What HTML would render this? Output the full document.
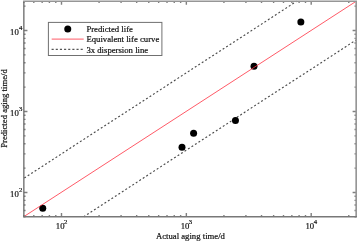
<!DOCTYPE html>
<html><head><meta charset="utf-8"><style>
html,body{margin:0;padding:0;background:#fff;width:357px;height:241px;overflow:hidden}
svg{display:block}
</style></head><body>
<svg width="357" height="241" viewBox="0 0 357 241">

<rect width="357" height="241" fill="#fff"/>
<g>
<path d="M23.85 178.28L296.79 1.2" stroke="#4a4a4a" stroke-width="1.15" stroke-dasharray="1.95 2.2" stroke-dashoffset="-0.475" fill="none"/>
<path d="M83.84 216.65L356.2 39.95" stroke="#4a4a4a" stroke-width="1.15" stroke-dasharray="1.95 2.2" stroke-dashoffset="0.275" fill="none"/>
<circle cx="42.75" cy="208.3" r="3.5" fill="#000"/>
<circle cx="182.0" cy="147.2" r="3.5" fill="#000"/>
<circle cx="193.6" cy="133.3" r="3.5" fill="#000"/>
<circle cx="235.45" cy="120.6" r="3.5" fill="#000"/>
<circle cx="254.0" cy="66.2" r="3.5" fill="#000"/>
<circle cx="300.85" cy="22.1" r="3.5" fill="#000"/>
<path d="M23.8 216.65L355.8 1.5" stroke="#ff3040" stroke-width="0.8" fill="none"/>
<path d="M23.92 216.65v-1.7M23.92 1.2v1.7M23.85 216.88h1.7M356.2 216.88h-1.7M33.80 216.65v-1.7M33.80 1.2v1.7M23.85 210.47h1.7M356.2 210.47h-1.7M42.16 216.65v-1.7M42.16 1.2v1.7M23.85 205.05h1.7M356.2 205.05h-1.7M49.40 216.65v-1.7M49.40 1.2v1.7M23.85 200.35h1.7M356.2 200.35h-1.7M55.79 216.65v-1.7M55.79 1.2v1.7M23.85 196.21h1.7M356.2 196.21h-1.7M61.50 216.65v-3.6M61.50 1.2v3.6M23.85 192.50h3.6M356.2 192.50h-3.6M99.08 216.65v-1.7M99.08 1.2v1.7M23.85 168.12h1.7M356.2 168.12h-1.7M121.07 216.65v-1.7M121.07 1.2v1.7M23.85 153.85h1.7M356.2 153.85h-1.7M136.67 216.65v-1.7M136.67 1.2v1.7M23.85 143.73h1.7M356.2 143.73h-1.7M148.77 216.65v-1.7M148.77 1.2v1.7M23.85 135.88h1.7M356.2 135.88h-1.7M158.65 216.65v-1.7M158.65 1.2v1.7M23.85 129.47h1.7M356.2 129.47h-1.7M167.01 216.65v-1.7M167.01 1.2v1.7M23.85 124.05h1.7M356.2 124.05h-1.7M174.25 216.65v-1.7M174.25 1.2v1.7M23.85 119.35h1.7M356.2 119.35h-1.7M180.64 216.65v-1.7M180.64 1.2v1.7M23.85 115.21h1.7M356.2 115.21h-1.7M186.35 216.65v-3.6M186.35 1.2v3.6M23.85 111.50h3.6M356.2 111.50h-3.6M223.93 216.65v-1.7M223.93 1.2v1.7M23.85 87.12h1.7M356.2 87.12h-1.7M245.92 216.65v-1.7M245.92 1.2v1.7M23.85 72.85h1.7M356.2 72.85h-1.7M261.52 216.65v-1.7M261.52 1.2v1.7M23.85 62.73h1.7M356.2 62.73h-1.7M273.62 216.65v-1.7M273.62 1.2v1.7M23.85 54.88h1.7M356.2 54.88h-1.7M283.50 216.65v-1.7M283.50 1.2v1.7M23.85 48.47h1.7M356.2 48.47h-1.7M291.86 216.65v-1.7M291.86 1.2v1.7M23.85 43.05h1.7M356.2 43.05h-1.7M299.10 216.65v-1.7M299.10 1.2v1.7M23.85 38.35h1.7M356.2 38.35h-1.7M305.49 216.65v-1.7M305.49 1.2v1.7M23.85 34.21h1.7M356.2 34.21h-1.7M311.20 216.65v-3.6M311.20 1.2v3.6M23.85 30.50h3.6M356.2 30.50h-3.6M348.78 216.65v-1.7M348.78 1.2v1.7M23.85 6.12h1.7M356.2 6.12h-1.7" stroke="#808080" stroke-width="1.4" fill="none"/>
<path d="M23.85 1.2V216.65" stroke="#696969" stroke-width="1.3" fill="none"/>
<path d="M356.2 1.2V216.65" stroke="#969696" stroke-width="1.7" fill="none"/>
<path d="M23.05 1.2H357.0" stroke="#969696" stroke-width="1.6" fill="none"/>
<path d="M23.05 216.65H357.0" stroke="#787878" stroke-width="1.5" fill="none"/>
<text x="55.80" y="229.3" font-size="8.7" font-family="Liberation Serif, Times New Roman, serif" stroke="#111" stroke-width="0.2" fill="#111">10<tspan font-size="6.8" dx="-0.5" dy="-5.0">2</tspan></text>
<text x="10.1" y="196.90" font-size="8.7" font-family="Liberation Serif, Times New Roman, serif" stroke="#111" stroke-width="0.2" fill="#111">10<tspan font-size="6.8" dx="0.2" dy="-5.0">2</tspan></text>
<text x="180.65" y="229.3" font-size="8.7" font-family="Liberation Serif, Times New Roman, serif" stroke="#111" stroke-width="0.2" fill="#111">10<tspan font-size="6.8" dx="-0.5" dy="-5.0">3</tspan></text>
<text x="10.1" y="115.90" font-size="8.7" font-family="Liberation Serif, Times New Roman, serif" stroke="#111" stroke-width="0.2" fill="#111">10<tspan font-size="6.8" dx="0.2" dy="-5.0">3</tspan></text>
<text x="305.50" y="229.3" font-size="8.7" font-family="Liberation Serif, Times New Roman, serif" stroke="#111" stroke-width="0.2" fill="#111">10<tspan font-size="6.8" dx="-0.5" dy="-5.0">4</tspan></text>
<text x="10.1" y="34.90" font-size="8.7" font-family="Liberation Serif, Times New Roman, serif" stroke="#111" stroke-width="0.2" fill="#111">10<tspan font-size="6.8" dx="0.2" dy="-5.0">4</tspan></text>
<text x="190.43" y="239" text-anchor="middle" font-size="8.7" font-family="Liberation Serif, Times New Roman, serif" stroke="#111" stroke-width="0.2" fill="#111">Actual aging time/d</text>
<text transform="translate(7.4 108.5) rotate(-90)" text-anchor="middle" font-size="8.7" font-family="Liberation Serif, Times New Roman, serif" stroke="#111" stroke-width="0.2" fill="#111">Predicted aging time/d</text>
<rect x="48.4" y="22.4" width="113.5" height="33.1" fill="#fff" stroke="#707070" stroke-width="1.0"/>
<circle cx="67.75" cy="28.95" r="3.5" fill="#000"/>
<path d="M51.7 39.1H83.7" stroke="#ff3040" stroke-width="0.8"/>
<path d="M51.6 49.4H83.7" stroke="#555" stroke-width="1.3" stroke-dasharray="2.1 2.05" fill="none"/>
<text x="86.4" y="32.15" font-size="8.7" font-family="Liberation Serif, Times New Roman, serif" stroke="#111" stroke-width="0.2" fill="#111">Predicted life</text>
<text x="86.4" y="42.45" font-size="8.7" font-family="Liberation Serif, Times New Roman, serif" stroke="#111" stroke-width="0.2" fill="#111">Equivalent life curve</text>
<text x="86.4" y="52.75" font-size="8.7" font-family="Liberation Serif, Times New Roman, serif" stroke="#111" stroke-width="0.2" fill="#111">3x dispersion line</text>
</g>
</svg>
</body></html>
